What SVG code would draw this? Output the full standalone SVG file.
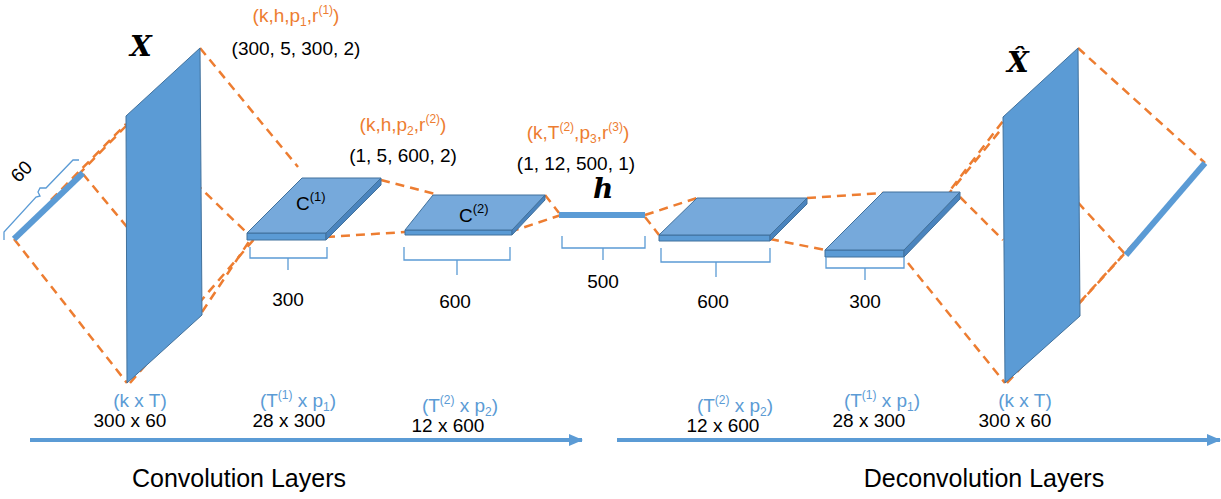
<svg xmlns="http://www.w3.org/2000/svg" width="1221" height="499" viewBox="0 0 1221 499">
<defs>
<marker id="ah2" markerWidth="14" markerHeight="12" refX="13" refY="6" orient="auto" markerUnits="userSpaceOnUse"><path d="M0,0 L14,6 L0,12 z" fill="#5B9BD5"/></marker>
</defs>
<style>
.panel{fill:#5B9BD5;stroke:#41719C;stroke-width:1}
.top{fill:#76A9DB;stroke:#41719C;stroke-width:1}
.side{fill:#4A84BE;stroke:#41719C;stroke-width:1}
.front{fill:#5B9BD5;stroke:#41719C;stroke-width:1}
.bar{stroke:#5B9BD5;stroke-width:6;stroke-linecap:butt}
.dash{stroke:#ED7D31;stroke-width:2.5;stroke-dasharray:9,6;fill:none}
.brace{stroke:#5B9BD5;stroke-width:1.3;fill:none}
text{font-family:"Liberation Sans",Arial,sans-serif}
.blk{font-size:19px;fill:#000}
.org{font-size:19px;fill:#ED7D31}
.blu{font-size:19px;fill:#5B9BD5}
.big{font-size:25px;fill:#000}
.math{font-family:"DejaVu Serif","Liberation Serif",serif;font-style:italic;font-weight:bold;font-size:28px;fill:#000}
</style>
<g id="connectors">
<line class="dash" x1="14" y1="239" x2="127" y2="383"/>
<line class="dash" x1="51" y1="200" x2="126" y2="124"/>
<line class="dash" x1="83" y1="174" x2="127" y2="227"/>
<line class="dash" x1="36" y1="218" x2="126" y2="126"/>
<line class="dash" x1="200" y1="48" x2="298" y2="167"/>
<line class="dash" x1="130" y1="120" x2="247" y2="233"/>
<line class="dash" x1="130" y1="383" x2="256" y2="237"/>
<line class="dash" x1="202" y1="312" x2="250" y2="240"/>
<line class="dash" x1="381" y1="180" x2="439" y2="195"/>
<line class="dash" x1="326" y1="237" x2="405" y2="232"/>
<line class="dash" x1="545" y1="195" x2="559" y2="213"/>
<line class="dash" x1="510" y1="232" x2="561" y2="215"/>
<line class="dash" x1="645" y1="215" x2="697" y2="198"/>
<line class="dash" x1="645" y1="217" x2="659" y2="235"/>
<line class="dash" x1="807" y1="198" x2="883" y2="193"/>
<line class="dash" x1="770" y1="239" x2="825" y2="250"/>
<line class="dash" x1="908" y1="263" x2="1005" y2="383"/>
<line class="dash" x1="960" y1="197" x2="1003" y2="240"/>
<line class="dash" x1="906" y1="248" x2="1003" y2="121"/>
<line class="dash" x1="946" y1="197" x2="1003" y2="127"/>
<line class="dash" x1="1078" y1="48" x2="1205" y2="163"/>
<line class="dash" x1="1007" y1="125" x2="1126" y2="255"/>
<line class="dash" x1="1007" y1="383" x2="1205" y2="165"/>
<line class="dash" x1="1080" y1="302" x2="1122" y2="256"/>
</g>
<g id="bar-in">
<line class="bar" x1="14" y1="239" x2="83" y2="173"/>
<path class="brace" d="M4,240 L4,232 L36,197 L40,196 L38,192 L40,188 L46,188 L73,160 L79,160"/>
<text class="blk" x="0" y="0" transform="translate(26,176) rotate(-45)" text-anchor="middle">60</text>
</g>
<g id="X">
<polygon class="panel" points="126,116 200,48 202,315 127,383"/>
<text class="math" x="130" y="56">X</text>
</g>
<g id="C1">
<polygon class="front" points="247,233 326,233 326,240 247,240"/>
<polygon class="side" points="326,233 381,178 381,185 326,240"/>
<polygon class="top" points="247,233 302,178 381,178 326,233"/>
<text class="blk" x="296" y="210">C<tspan font-size="13" dy="-9">(1)</tspan></text>
<path class="brace" d="M250,247 L250,258 L288,258 L288,270 M288,258 L327,258 L327,247"/>
<text class="blk" x="288" y="306" text-anchor="middle">300</text>
</g>
<g id="C2">
<polygon class="front" points="405,230 512,230 512,235 405,235"/>
<polygon class="side" points="512,230 545,195 545,200 512,235"/>
<polygon class="top" points="405,230 433,195 545,195 512,230"/>
<text class="blk" x="459" y="222">C<tspan font-size="13" dy="-9">(2)</tspan></text>
<path class="brace" d="M404,247 L404,260 L457,260 L457,275 M457,260 L510,260 L510,247"/>
<text class="blk" x="455" y="308" text-anchor="middle">600</text>
</g>
<g id="h">
<line class="bar" x1="559" y1="215" x2="645" y2="215"/>
<text class="math" x="593" y="198">h</text>
<path class="brace" d="M562,236 L562,248 L603,248 L603,260 M603,248 L645,248 L645,236"/>
<text class="blk" x="603" y="288" text-anchor="middle">500</text>
</g>
<g id="D1">
<polygon class="front" points="659,235 770,235 770,241 659,241"/>
<polygon class="side" points="770,235 807,198 807,204 770,241"/>
<polygon class="top" points="659,235 697,198 807,198 770,235"/>
<path class="brace" d="M661,248 L661,262 L716,262 L716,277 M716,262 L770,262 L770,248"/>
<text class="blk" x="713" y="308" text-anchor="middle">600</text>
</g>
<g id="D2">
<polygon class="front" points="825,250 904,250 904,257 825,257"/>
<polygon class="side" points="904,250 960,192 960,199 904,257"/>
<polygon class="top" points="825,250 883,192 960,192 904,250"/>
<path class="brace" d="M826,257 L826,268 L865,268 L865,280 M865,268 L904,268 L904,257"/>
<text class="blk" x="865" y="308" text-anchor="middle">300</text>
</g>
<g id="Xhat">
<polygon class="panel" points="1003,117 1078,48 1080,316 1005,383"/>
<text class="math" x="1007" y="72">X&#x302;</text>
</g>
<g id="bar-out">
<line class="bar" x1="1126" y1="255" x2="1205" y2="163"/>
</g>
<g id="params">
<text class="org" x="296" y="22" text-anchor="middle">(k,h,p<tspan font-size="12" dy="4">1</tspan><tspan dy="-4">,r</tspan><tspan font-size="12" dy="-8">(1)</tspan><tspan dy="8">)</tspan></text>
<text class="blk" x="296" y="55" text-anchor="middle">(300, 5, 300, 2)</text>
<text class="org" x="403" y="131" text-anchor="middle">(k,h,p<tspan font-size="12" dy="4">2</tspan><tspan dy="-4">,r</tspan><tspan font-size="12" dy="-8">(2)</tspan><tspan dy="8">)</tspan></text>
<text class="blk" x="403" y="162" text-anchor="middle">(1, 5, 600, 2)</text>
<text class="org" x="578" y="139" text-anchor="middle">(k,T<tspan font-size="12" dy="-8">(2)</tspan><tspan dy="8">,p</tspan><tspan font-size="12" dy="4">3</tspan><tspan dy="-4">,r</tspan><tspan font-size="12" dy="-8">(3)</tspan><tspan dy="8">)</tspan></text>
<text class="blk" x="576" y="170" text-anchor="middle">(1, 12, 500, 1)</text>
</g>
<g id="dims">
<text class="blu" x="140" y="407" text-anchor="middle">(k x T)</text>
<text class="blk" x="130" y="427" text-anchor="middle">300 x 60</text>
<text class="blu" x="298" y="407" text-anchor="middle">(T<tspan font-size="12" dy="-8">(1)</tspan><tspan dy="8"> x p</tspan><tspan font-size="12" dy="4">1</tspan><tspan dy="-4">)</tspan></text>
<text class="blk" x="289" y="427" text-anchor="middle">28 x 300</text>
<text class="blu" x="460" y="412" text-anchor="middle">(T<tspan font-size="12" dy="-8">(2)</tspan><tspan dy="8"> x p</tspan><tspan font-size="12" dy="4">2</tspan><tspan dy="-4">)</tspan></text>
<text class="blk" x="448" y="432" text-anchor="middle">12 x 600</text>
<text class="blu" x="735" y="412" text-anchor="middle">(T<tspan font-size="12" dy="-8">(2)</tspan><tspan dy="8"> x p</tspan><tspan font-size="12" dy="4">2</tspan><tspan dy="-4">)</tspan></text>
<text class="blk" x="723" y="432" text-anchor="middle">12 x 600</text>
<text class="blu" x="882" y="407" text-anchor="middle">(T<tspan font-size="12" dy="-8">(1)</tspan><tspan dy="8"> x p</tspan><tspan font-size="12" dy="4">1</tspan><tspan dy="-4">)</tspan></text>
<text class="blk" x="869" y="427" text-anchor="middle">28 x 300</text>
<text class="blu" x="1025" y="407" text-anchor="middle">(k x T)</text>
<text class="blk" x="1015" y="427" text-anchor="middle">300 x 60</text>
</g>
<g id="arrows">
<line x1="30" y1="440" x2="582" y2="440" stroke="#5B9BD5" stroke-width="4" marker-end="url(#ah2)"/>
<line x1="617" y1="440" x2="1220" y2="440" stroke="#5B9BD5" stroke-width="4" marker-end="url(#ah2)"/>
<text class="big" x="239" y="487" text-anchor="middle">Convolution Layers</text>
<text class="big" x="984" y="487" text-anchor="middle">Deconvolution Layers</text>
</g>
</svg>
